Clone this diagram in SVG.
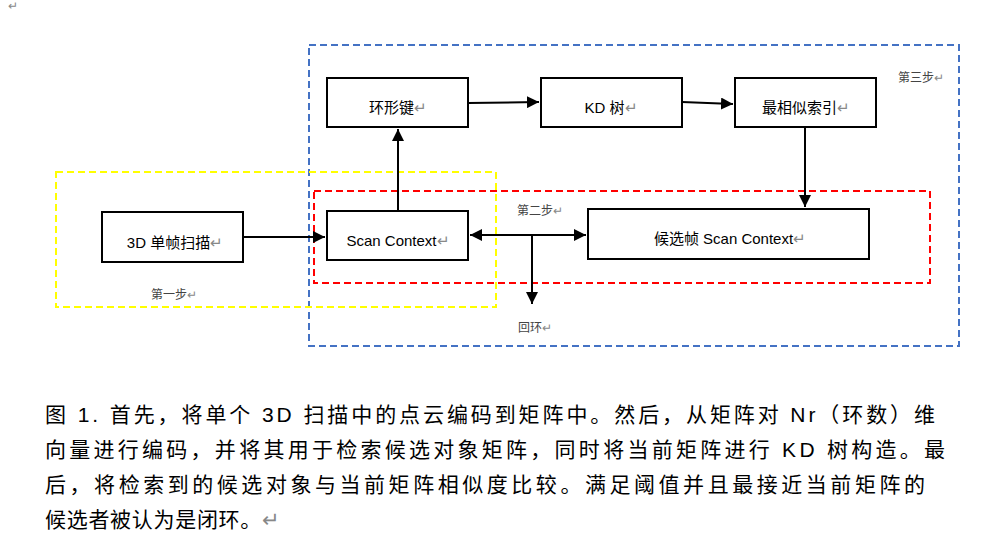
<svg xmlns="http://www.w3.org/2000/svg" width="990" height="548" viewBox="0 0 990 548">
<style>
text{font-family:"Liberation Sans","Noto Sans CJK SC",sans-serif;fill:#000}
.n{fill:#fff;stroke:#000;stroke-width:2}
.t{font-size:15px;text-anchor:middle}
.l{font-size:12px;fill:#444}
.r{fill:#888}
.c{font-size:21px}
.e{stroke:#000;stroke-width:2;fill:none}
</style>
<defs><marker id="a" viewBox="0 0 10 10" refX="10" refY="5" markerWidth="6" markerHeight="6" orient="auto-start-reverse"><path d="M0,0L10,5L0,10z" fill="#000"/></marker></defs>
<text x="8" y="10" class="l r">↵</text>
<g id="frames" fill="none" stroke-width="2" stroke-dasharray="7,4">
<rect x="309" y="45" width="650" height="301" stroke="#4472c4"/>
<rect x="56" y="172" width="440" height="135" stroke="#ffff00"/>
<rect x="314" y="191" width="616" height="92" stroke="#ff0000"/>
</g>
<g id="n1"><rect class="n" x="102" y="212" width="141" height="50"/><text class="t" x="175" y="248">3D 单帧扫描<tspan class="r">↵</tspan></text></g>
<g id="n2"><rect class="n" x="327" y="211" width="141" height="49"/><text class="t" x="398" y="246">Scan Context<tspan class="r">↵</tspan></text></g>
<g id="n3"><rect class="n" x="327" y="78" width="141" height="49"/><text class="t" x="398" y="113">环形键<tspan class="r">↵</tspan></text></g>
<g id="n4"><rect class="n" x="541" y="78" width="141" height="49"/><text class="t" x="611" y="113">KD 树<tspan class="r">↵</tspan></text></g>
<g id="n5"><rect class="n" x="735" y="78" width="141" height="49"/><text class="t" x="806" y="113">最相似索引<tspan class="r">↵</tspan></text></g>
<g id="n6"><rect class="n" x="588" y="209" width="281" height="50"/><text class="t" x="730" y="244">候选帧 Scan Context<tspan class="r">↵</tspan></text></g>
<g id="connectors">
<line class="e" x1="243" y1="237" x2="325" y2="237" marker-end="url(#a)"/>
<line class="e" x1="398" y1="211" x2="398" y2="129" marker-end="url(#a)"/>
<line class="e" x1="468" y1="103" x2="539" y2="102" marker-end="url(#a)"/>
<line class="e" x1="682" y1="102" x2="733" y2="104" marker-end="url(#a)"/>
<line class="e" x1="805" y1="127" x2="805" y2="207" marker-end="url(#a)"/>
<line class="e" x1="470" y1="235" x2="586" y2="235" marker-start="url(#a)" marker-end="url(#a)"/>
<line class="e" x1="532" y1="235" x2="532" y2="304" marker-end="url(#a)"/>
</g>
<text class="l" x="898" y="82">第三步<tspan class="r">↵</tspan></text>
<text class="l" x="517" y="215">第二步<tspan class="r">↵</tspan></text>
<text class="l" x="151" y="299">第一步<tspan class="r">↵</tspan></text>
<text class="l" x="518" y="332">回环<tspan class="r">↵</tspan></text>
<g id="caption" class="c">
<text x="45" y="422" textLength="890" lengthAdjust="spacing">图 1. 首先，将单个 3D 扫描中的点云编码到矩阵中。然后，从矩阵对 Nr（环数）维</text>
<text x="45" y="457" textLength="900" lengthAdjust="spacing">向量进行编码，并将其用于检索候选对象矩阵，同时将当前矩阵进行 KD 树构造。最</text>
<text x="45" y="492" textLength="880" lengthAdjust="spacing">后，将检索到的候选对象与当前矩阵相似度比较。满足阈值并且最接近当前矩阵的</text>
<text x="45" y="527" textLength="235" lengthAdjust="spacing">候选者被认为是闭环。<tspan class="r">↵</tspan></text>
</g>
</svg>
